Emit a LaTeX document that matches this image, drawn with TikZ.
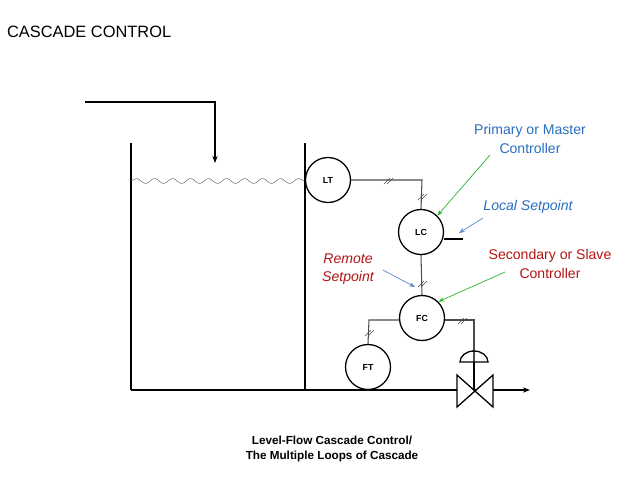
\documentclass[tikz,border=0pt]{standalone}
\usepackage{fontspec}
\setmainfont{Liberation Sans}
\usetikzlibrary{arrows.meta,decorations.pathmorphing,calc}
\definecolor{lblue}{RGB}{40,110,190}
\definecolor{lred}{RGB}{180,20,20}
\definecolor{lgreen}{RGB}{40,180,40}
\newlength{\pxu}\setlength{\pxu}{0.03cm}
\tikzset{
  inst/.style={circle,draw,line width=1.1pt,minimum size=45\pxu,inner sep=0pt,font=\fontsize{7.5}{8}\selectfont\bfseries},
  sig/.style={draw=black!70,line width=0.9pt},
  tick/.style={draw=black!70,line width=0.5pt},
  pointer/.style={-{Stealth[length=5pt]},line width=0.6pt},
}
\newcommand{\dtick}[1]{%
  \draw[tick] ($(#1)+(-4,4)$) -- ($(#1)+(2,-2)$);
  \draw[tick] ($(#1)+(-1,4)$) -- ($(#1)+(5,-2)$);}
\begin{document}
\begin{tikzpicture}[x=0.03cm,y=-0.03cm]
\useasboundingbox (0,0) rectangle (638,494);
\node[anchor=west,font=\fontsize{14}{16}\selectfont] (title) at (3,32) {CASCADE CONTROL};
% tank and piping
\draw[line width=1pt] (131,143) -- (131,390);
\draw[line width=1pt] (305,143) -- (305,390);
\coordinate (pin) at (85,102);
\coordinate (pbend) at (215,102);
\coordinate (pout) at (215,163);
\draw[line width=0.9pt,-{Stealth[length=6pt]}] (pin) -- (pbend) -- (pout);
\draw[black!60,decorate,decoration={snake,amplitude=2.5\pxu,segment length=18\pxu}] (131,181) -- (305,181);
\coordinate (bl) at (131,390);
\coordinate (br) at (530,390);
\draw[line width=1.1pt,-{Stealth[length=6pt]}] (bl) -- (br);
% instruments
\node[inst] (LT) at (328,180) {LT};
\node[inst] (LC) at (421,232) {LC};
\node[inst] (FC) at (422,318) {FC};
\node[inst] (FT) at (368,367) {FT};
\coordinate (c1) at (422,180);
\coordinate (c2) at (369,320);
\coordinate (c3) at (474,320);
\coordinate (act) at (474,362);
\coordinate (vc) at (474,390);
\draw[sig] (LT.east |- c1) -- (c1) -- (LC.north);
\draw[sig] (LC.south) -- (FC.north);
\draw[sig] (FC.west |- c2) -- (c2) -- (FT.north);
\draw[sig] (FC.east |- c3) -- (c3) -- (act);
\draw[line width=1.8pt] (LC.east |- 0,239) -- (463,239);
\dtick{388,180} \dtick{422,196} \dtick{422,283} \dtick{369,332} \dtick{462,320}
% valve
\draw[line width=1.1pt] (act) -- (vc);
\draw[line width=1.1pt] (460,362) arc[start angle=180,end angle=360,x radius=14,y radius=11] -- cycle;
\draw[line width=1.1pt,fill=white] (457,375) -- (493,407) -- (493,375) -- (457,407) -- cycle;
% labels
\node[lblue,align=center,font=\fontsize{12}{16}\selectfont] (pm) at (530,139) {Primary or Master\\Controller};
\node[lblue,font=\fontsize{12}{14}\selectfont\itshape] (ls) at (528,207) {Local Setpoint};
\node[lred,align=center,font=\fontsize{12}{16}\selectfont\itshape] (rs) at (348,269) {Remote\\Setpoint};
\node[lred,align=center,font=\fontsize{12}{16}\selectfont] (ss) at (550,264) {Secondary or Slave\\Controller};
\coordinate (a1) at (490,155);
\coordinate (a2) at (483,218);
\coordinate (a3) at (383,270);
\coordinate (a4) at (505,272);
\draw[pointer,lgreen] (a1) -- (LC.north east);
\draw[pointer,lblue!80] (a2) -- (459,233);
\draw[pointer,lblue!80] (a3) -- (415,287);
\draw[pointer,lgreen] (a4) -- (FC.north east);
\node[align=center,font=\fontsize{10}{13}\selectfont\bfseries] (cap) at (332,449) {Level-Flow Cascade Control/\\The Multiple Loops of Cascade};
\end{tikzpicture}
\end{document}
